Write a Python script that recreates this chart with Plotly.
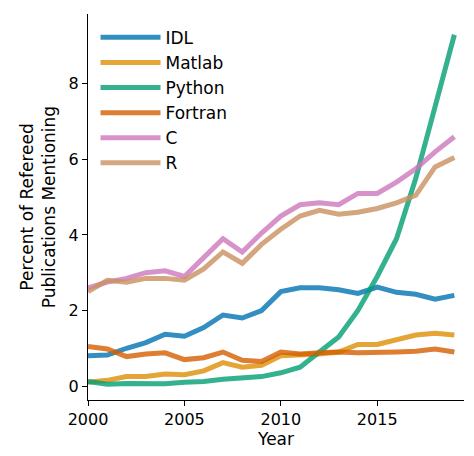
import plotly.graph_objects as go

years = list(range(2000, 2020))
idl = [0.8, 0.82, 1.0, 1.15, 1.37, 1.32, 1.55, 1.88, 1.8, 2.0, 2.5, 2.6, 2.6, 2.55, 2.45, 2.62, 2.48, 2.43, 2.3, 2.4]
matlab = [0.1, 0.15, 0.25, 0.25, 0.32, 0.3, 0.4, 0.62, 0.5, 0.55, 0.8, 0.82, 0.85, 0.9, 1.1, 1.1, 1.22, 1.35, 1.4, 1.35]
python = [0.12, 0.05, 0.07, 0.07, 0.06, 0.1, 0.12, 0.18, 0.22, 0.25, 0.35, 0.5, 0.9, 1.3, 2.0, 2.9, 3.9, 5.5, 7.4, 9.3]
fortran = [1.05, 0.98, 0.78, 0.85, 0.88, 0.7, 0.75, 0.9, 0.68, 0.65, 0.9, 0.85, 0.88, 0.9, 0.88, 0.88, 0.9, 0.92, 0.98, 0.9]
c_lang = [2.6, 2.75, 2.85, 3.0, 3.05, 2.9, 3.4, 3.9, 3.55, 4.05, 4.5, 4.8, 4.85, 4.8, 5.1, 5.1, 5.4, 5.75, 6.2, 6.6]
r_lang = [2.5, 2.8, 2.75, 2.85, 2.85, 2.8, 3.1, 3.55, 3.25, 3.75, 4.15, 4.5, 4.65, 4.55, 4.6, 4.7, 4.85, 5.05, 5.8, 6.05]

series = [("IDL", idl, "#0173b2"), ("Matlab", matlab, "#de8f05"), ("Python", python, "#029e73"),
          ("Fortran", fortran, "#d55e00"), ("C", c_lang, "#cc78bc"), ("R", r_lang, "#ca9161")]

fig = go.Figure()
for name, vals, col in series:
    fig.add_trace(go.Scatter(x=years, y=vals, name=name, mode="lines",
                             line=dict(color=col, width=5), opacity=0.8))

axis_common = dict(showline=True, linecolor="black", linewidth=1.2, ticks="outside",
                   ticklen=5, tickcolor="black", showgrid=False, zeroline=False,
                   tickfont=dict(size=16, color="black"))
fig.update_layout(
    width=474, height=456, plot_bgcolor="white", paper_bgcolor="white",
    font=dict(family="DejaVu Sans", color="black"),
    margin=dict(l=80, r=18, t=6, b=64),
    xaxis=dict(range=[2000, 2019.5], tickvals=[2000, 2005, 2010, 2015],
               title=dict(text="Year", font=dict(size=17), standoff=4), **axis_common),
    yaxis=dict(range=[-0.37, 9.85], tickvals=[0, 2, 4, 6, 8],
               title=dict(text="Percent of Refereed<br>Publications Mentioning", font=dict(size=17), standoff=8),
               **axis_common),
    legend=dict(x=0.02, y=0.985, xanchor="left", yanchor="top", bgcolor="rgba(0,0,0,0)",
                font=dict(size=17), itemwidth=60, tracegroupgap=5),
    showlegend=True,
)
fig.write_html("out.html")
